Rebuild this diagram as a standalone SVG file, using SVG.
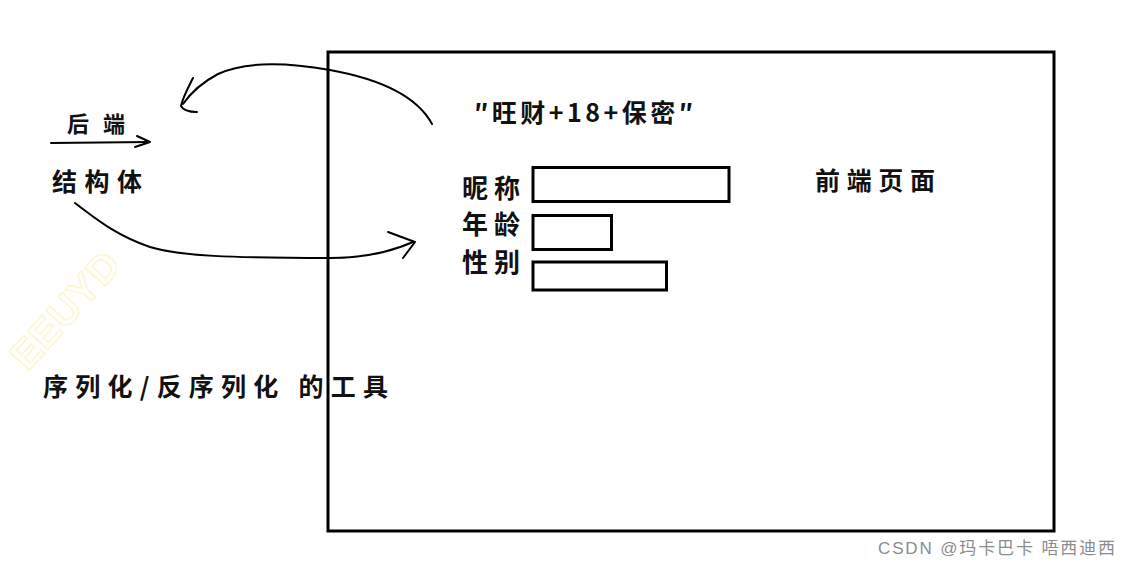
<svg xmlns="http://www.w3.org/2000/svg" width="1131" height="567" viewBox="0 0 1131 567">
  <style>
    .cjk { font-family: "Noto Sans CJK SC", "Noto Sans", sans-serif; fill: #111111; font-weight: 700; }
    .box { fill: none; stroke: #000; stroke-width: 3; }
    .wire { fill: none; stroke: #000; stroke-width: 2; stroke-linecap: round; stroke-linejoin: round; }
    .wm { font-family: "Liberation Sans", "Noto Sans CJK SC", sans-serif; fill: #8c8c8c; font-size: 17px; }
  </style>
  <rect x="0" y="0" width="1131" height="567" fill="#ffffff"/>

  <!-- faint diagonal watermark -->
  <text x="28" y="372" transform="rotate(-48 28 372)" font-family="Liberation Sans, sans-serif" font-size="40" font-weight="bold" fill="none" stroke="#fdf6cc" stroke-width="1.3" letter-spacing="1">EEUYD</text>

  <g id="frontend-page">
    <rect class="box" x="328" y="52" width="726" height="479"/>
    <text class="cjk" x="815" y="190" font-size="25" textLength="120" lengthAdjust="spacing">前端页面</text>
  </g>

  <g id="json-string">
    <text class="cjk" x="474" y="122" font-size="25" textLength="219" lengthAdjust="spacing">″旺财+18+保密″</text>
  </g>

  <g id="field-nickname">
    <text class="cjk" x="462" y="198" font-size="26" textLength="58" lengthAdjust="spacing">昵称</text>
    <rect class="box" x="533" y="167.5" width="196" height="34"/>
  </g>

  <g id="field-age">
    <text class="cjk" x="462" y="234" font-size="26" textLength="58" lengthAdjust="spacing">年龄</text>
    <rect class="box" x="533" y="215.5" width="78.5" height="34"/>
  </g>

  <g id="field-gender">
    <text class="cjk" x="462" y="272" font-size="26" textLength="58" lengthAdjust="spacing">性别</text>
    <rect class="box" x="533" y="262" width="133.5" height="28"/>
  </g>

  <g id="backend">
    <text class="cjk" x="67" y="132" font-size="22" textLength="58" lengthAdjust="spacing">后端</text>
  </g>

  <g id="struct">
    <text class="cjk" x="52" y="191" font-size="25" textLength="90" lengthAdjust="spacing">结构体</text>
  </g>

  <g id="serializer">
    <text class="cjk" x="43" y="396" font-size="25" textLength="345" lengthAdjust="spacing">序列化/反序列化 的工具</text>
  </g>

  <g id="connectors">
    <!-- small arrow under 后端 -->
    <path class="wire" d="M 51 143 L 149 142"/>
    <path class="wire" d="M 137 136 L 150 142 L 135 147"/>
    <!-- top curve: front end back to back end -->
    <path class="wire" d="M 432 124 C 418 98, 385 80, 330 70 C 290 63, 248 60, 218 74 C 201 83, 190 94, 183 104"/>
    <path class="wire" d="M 193 78 C 188 88, 183 97, 181 106 C 183 110, 190 112, 197 112"/>
    <!-- bottom curve: back end to front end -->
    <path class="wire" d="M 75 203 C 95 218, 115 235, 150 247 C 180 256, 230 258, 330 258 C 370 258, 395 250, 413 242"/>
    <path class="wire" d="M 388 232 L 415 242 L 403 258"/>
  </g>

  <text class="wm" x="878" y="554" textLength="237" lengthAdjust="spacing">CSDN @玛卡巴卡 唔西迪西</text>
</svg>
